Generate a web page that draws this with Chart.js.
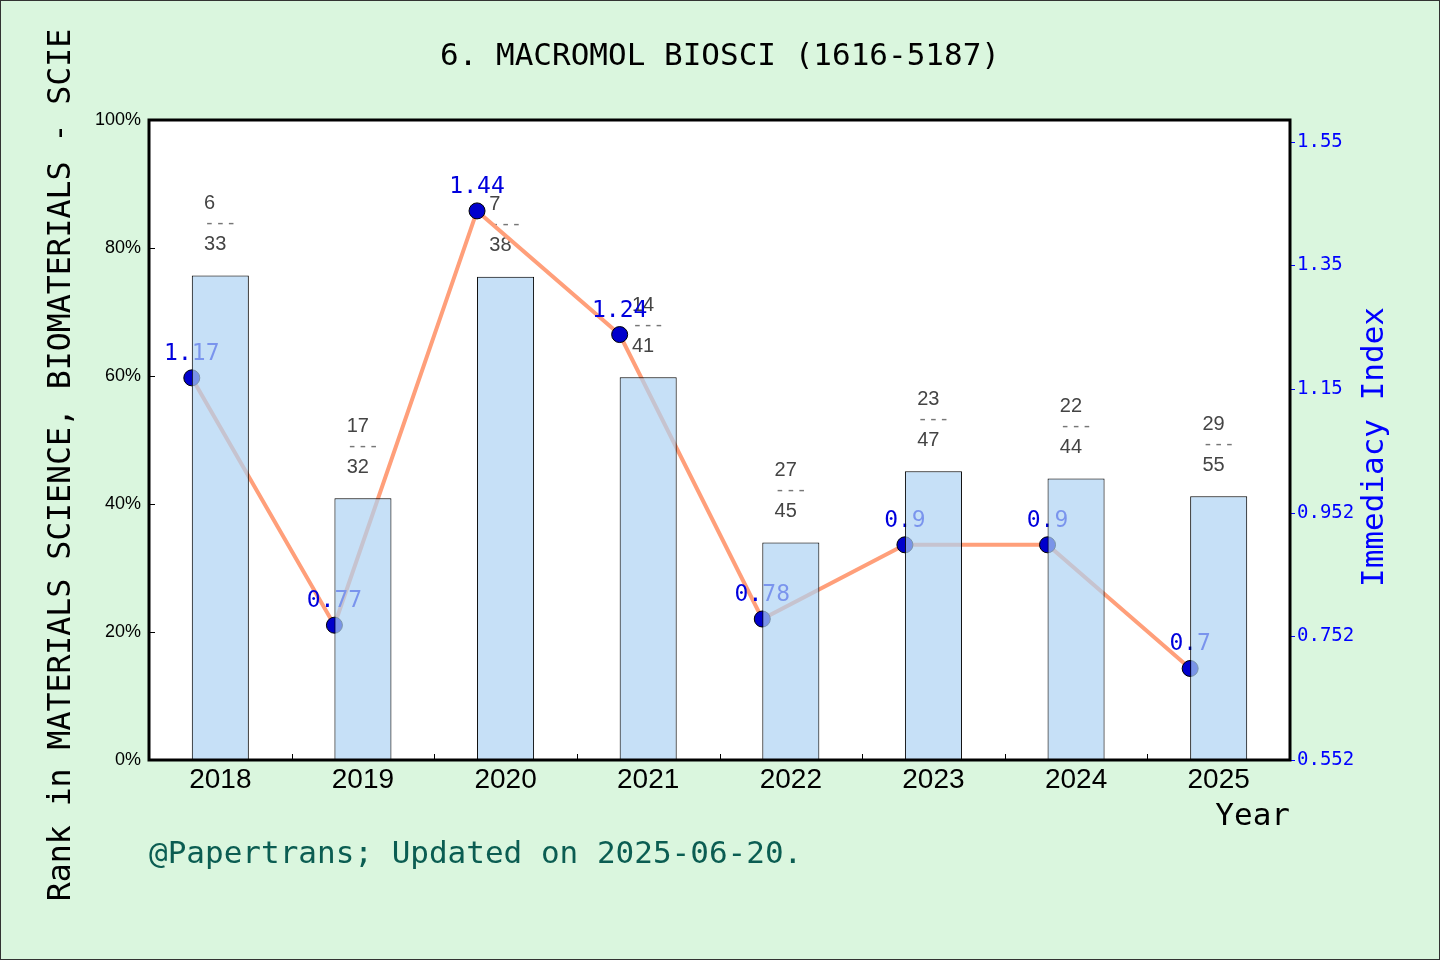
<!DOCTYPE html>
<html>
<head>
<meta charset="utf-8">
<script src="https://cdn.jsdelivr.net/npm/chart.js@4.4.1/dist/chart.umd.min.js"></script>
<style>
  html, body { margin: 0; padding: 0; background: #daf6de; }
  #wrap { width: 1440px; height: 960px; }
</style>
</head>
<body>
<div id="wrap"><canvas id="rankChart" width="1440" height="960"></canvas></div>
<script>
// data
var years = ['2018', '2019', '2020', '2021', '2022', '2023', '2024', '2025'];
var rankPct = [75.7, 40.9, 75.5, 59.8, 34.0, 45.1, 44.0, 41.2];
var rankPos = [6, 17, 7, 14, 27, 23, 22, 29];
var rankTotal = [33, 32, 38, 41, 45, 47, 44, 55];
var immediacy = [1.17, 0.77, 1.44, 1.24, 0.78, 0.9, 0.9, 0.7];
var leftTicks = [0, 20, 40, 60, 80, 100];
var rightTicks = [0.552, 0.752, 0.952, 1.152, 1.352, 1.552];

var MONO = '"DejaVu Sans Mono", "Liberation Mono", monospace';
var SANS = '"Liberation Sans", Arial, sans-serif';
var BAR_FRACTION = 0.4;   // barPercentage * categoryPercentage

// bars sit on the year index, the line on the left edge of each bar
var barPoints = rankPct.map(function (v, i) { return { x: i, y: v }; });
var linePoints = immediacy.map(function (v, i) {
  return { x: i - BAR_FRACTION / 2, y: v };
});

var decorPlugin = {
  id: 'decor',
  beforeDraw: function (chart) {
    var ctx = chart.ctx, a = chart.chartArea;
    ctx.save();
    ctx.fillStyle = '#daf6de';
    ctx.fillRect(0, 0, chart.width, chart.height);
    ctx.fillStyle = '#ffffff';
    ctx.fillRect(a.left, a.top, a.right - a.left, a.bottom - a.top);
    ctx.restore();
  },
  beforeDatasetsDraw: function (chart) {
    // rank labels above the bars
    var ctx = chart.ctx;
    var meta = chart.getDatasetMeta(0);
    ctx.save();
    ctx.textBaseline = 'middle';
    ctx.textAlign = 'left';
    ctx.font = '18px ' + MONO;
    var w = ctx.measureText('---').width;
    meta.data.forEach(function (bar, i) {
      var x0 = bar.x - w / 2;
      ctx.font = '18px ' + MONO;
      ctx.fillStyle = '#777777';
      ctx.fillText('---', x0, bar.y - 52);
      ctx.font = '20px ' + SANS;
      ctx.fillStyle = '#444444';
      ctx.fillText(String(rankPos[i]), x0, bar.y - 72);
      ctx.fillText(String(rankTotal[i]), x0, bar.y - 31);
    });
    ctx.restore();
  },
  afterDatasetDraw: function (chart, args) {
    if (args.index !== 1) return;
    var ctx = chart.ctx;
    ctx.save();
    ctx.font = '23px ' + MONO;
    ctx.fillStyle = '#0000dd';
    ctx.textAlign = 'center';
    ctx.textBaseline = 'middle';
    args.meta.data.forEach(function (pt, i) {
      ctx.fillText(String(immediacy[i]), pt.x, pt.y - 24);
    });
    ctx.restore();
  },
  afterDraw: function (chart) {
    var ctx = chart.ctx, a = chart.chartArea;
    var xs = chart.scales.x, yl = chart.scales.y, yr = chart.scales.y1;
    ctx.save();
    // tick marks
    ctx.lineWidth = 1;
    ctx.strokeStyle = '#000000';
    ctx.beginPath();
    yl.ticks.forEach(function (t) {
      var y = Math.round(yl.getPixelForValue(t.value)) + 0.5;
      ctx.moveTo(a.left, y); ctx.lineTo(a.left + 6, y);
    });
    for (var i = 0; i < years.length - 1; i++) {
      var bx = Math.round(xs.getPixelForValue(i + 0.5)) + 0.5;
      ctx.moveTo(bx, a.bottom); ctx.lineTo(bx, a.bottom - 6);
    }
    ctx.stroke();
    ctx.strokeStyle = '#0000ff';
    ctx.beginPath();
    yr.ticks.forEach(function (t) {
      var y = Math.round(yr.getPixelForValue(t.value)) + 0.5;
      ctx.moveTo(a.right, y); ctx.lineTo(a.right + 5, y);
    });
    ctx.stroke();
    // plot frame
    ctx.lineWidth = 3;
    ctx.strokeStyle = '#000000';
    ctx.strokeRect(a.left, a.top, a.right - a.left, a.bottom - a.top);
    // figure frame
    ctx.lineWidth = 1;
    ctx.strokeStyle = '#333333';
    ctx.strokeRect(0.5, 0.5, chart.width - 1, chart.height - 1);

    // texts
    ctx.textBaseline = 'middle';
    ctx.font = '31px ' + MONO;
    ctx.fillStyle = '#000000';
    ctx.textAlign = 'center';
    ctx.fillText('6. MACROMOL BIOSCI (1616-5187)', 720, 57);

    ctx.textAlign = 'right';
    ctx.fillText('Year', a.right, 817);

    ctx.textAlign = 'left';
    ctx.fillStyle = '#0b5d52';
    ctx.fillText('@Papertrans; Updated on 2025-06-20.', 149, 855);

    ctx.save();
    ctx.translate(62, 465);
    ctx.rotate(-Math.PI / 2);
    ctx.textAlign = 'center';
    ctx.fillStyle = '#000000';
    ctx.font = '31.5px ' + MONO;
    ctx.fillText('Rank in MATERIALS SCIENCE, BIOMATERIALS - SCIE', 0, 0);
    ctx.restore();

    ctx.save();
    ctx.translate(1375, 447);
    ctx.rotate(-Math.PI / 2);
    ctx.textAlign = 'center';
    ctx.fillStyle = '#0000ff';
    ctx.fillText('Immediacy Index', 0, 0);
    ctx.restore();

    ctx.restore();
  }
};

var ctxRank = document.getElementById('rankChart').getContext('2d');
var rankChart = new Chart(ctxRank, {
  type: 'bar',
  data: {
    datasets: [{
      label: 'Rank',
      data: barPoints,
      xAxisID: 'x',
      yAxisID: 'y',
      order: 1,
      grouped: false,
      backgroundColor: 'rgba(174, 211, 243, 0.7)',
      borderColor: '#000000',
      borderWidth: 1,
      barPercentage: 0.8,
      categoryPercentage: BAR_FRACTION / 0.8
    },
    {
      type: 'line',
      label: 'Immediacy Index',
      data: linePoints,
      xAxisID: 'x',
      yAxisID: 'y1',
      order: 2,
      borderColor: '#ff9f7a',
      borderWidth: 4,
      pointRadius: 8,
      pointBackgroundColor: '#0000cc',
      pointBorderColor: '#000000',
      pointBorderWidth: 1,
      tension: 0
    }]
  },
  options: {
    responsive: false,
    animation: false,
    layout: { padding: { top: 120, left: 0, right: 0, bottom: 0 } },
    plugins: {
      legend: { display: false },
      tooltip: { enabled: false }
    },
    scales: {
      x: {
        type: 'linear',
        position: 'bottom',
        min: -0.5,
        max: years.length - 0.5,
        offset: false,
        grid: { display: false, drawTicks: false, offset: false },
        border: { display: false },
        ticks: {
          color: '#000000',
          font: { family: SANS, size: 28 },
          padding: 3,
          maxRotation: 0,
          autoSkip: false,
          callback: function (v) { return years[v]; }
        },
        afterBuildTicks: function (s) { s.ticks = years.map(function (y, i) { return { value: i }; }); },
        afterFit: function (s) { s.height = 200; }
      },
      y: {
        position: 'left',
        min: 0,
        max: 100,
        grid: { display: false, drawTicks: false },
        border: { display: false },
        ticks: {
          color: '#000000',
          font: { family: SANS, size: 18 },
          padding: 8,
          callback: function (v) { return v + '%'; }
        },
        afterBuildTicks: function (s) { s.ticks = leftTicks.map(function (v) { return { value: v }; }); },
        afterFit: function (s) { s.width = 149; }
      },
      y1: {
        position: 'right',
        min: 0.552,
        max: 1.587,
        grid: { display: false, drawTicks: false },
        border: { display: false },
        ticks: {
          color: '#0000ff',
          font: { family: MONO, size: 19 },
          padding: 7,
          callback: function (v) { return Number(v).toPrecision(3); }
        },
        afterBuildTicks: function (s) { s.ticks = rightTicks.map(function (v) { return { value: v }; }); },
        afterFit: function (s) { s.width = 150; }
      }
    }
  },
  plugins: [decorPlugin]
});
</script>
</body>
</html>
